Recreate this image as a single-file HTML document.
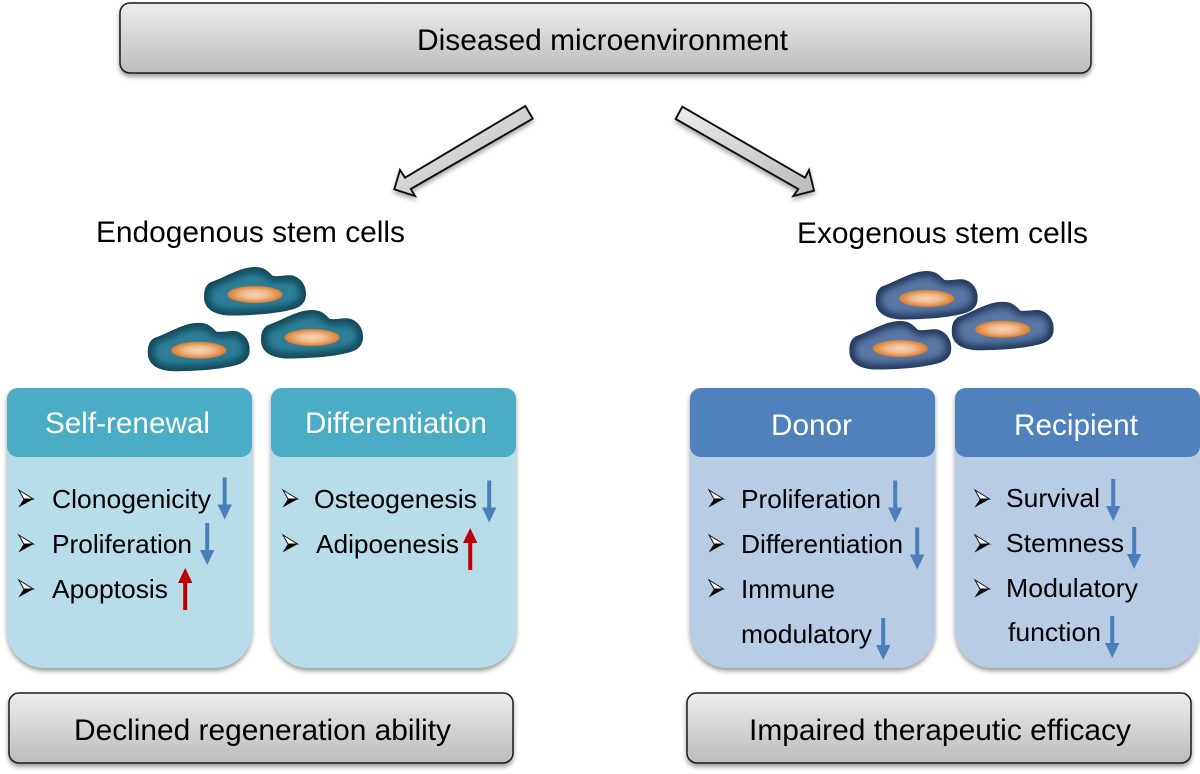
<!DOCTYPE html>
<html><head><meta charset="utf-8"><style>
html,body{margin:0;padding:0;background:#fff}
svg{display:block}
text{font-family:"Liberation Sans",sans-serif;fill:#000}
.t{font-size:30px}
.l{font-size:26px}
.h{font-size:30px;fill:#fff}
</style></head><body>
<svg width="1200" height="774" viewBox="0 0 1200 774" xmlns="http://www.w3.org/2000/svg">
<defs>
<linearGradient id="g" x1="0" y1="0" x2="0" y2="1"><stop offset="0" stop-color="#ededed"/><stop offset="1" stop-color="#bcbcbc"/></linearGradient>
<linearGradient id="ga" x1="0" y1="0" x2="1" y2="1"><stop offset="0" stop-color="#ececec"/><stop offset="1" stop-color="#bababa"/></linearGradient>
<radialGradient id="n"><stop offset="0" stop-color="#f9d6b6"/><stop offset=".5" stop-color="#eeba8e"/><stop offset=".85" stop-color="#e28f48"/><stop offset="1" stop-color="#dc7d2c"/></radialGradient>
<filter id="s" x="-5%" y="-10%" width="110%" height="130%"><feDropShadow dx="0" dy="3" stdDeviation="2.500" flood-color="#000" flood-opacity=".4"/></filter>
<filter id="sa" x="-15%" y="-15%" width="130%" height="140%"><feDropShadow dx="0" dy="3" stdDeviation="2.500" flood-color="#000" flood-opacity=".35"/></filter>
<filter id="bl" filterUnits="userSpaceOnUse" x="-30" y="-30" width="170" height="110"><feGaussianBlur stdDeviation="4"/></filter>
<path id="c" d="M6 15.500 C22 10 36 0 51 0 C62 0 65 6 69 9 C76 10 84 7 90 9 C98 12 102 19 102 27 C102 37 95 41 86 43 C72 46.500 50 48.500 26 48.500 C12 48 0 43 0 30 C0 24 1 19 6 15.500 Z"/>
<clipPath id="cp"><use href="#c"/></clipPath>
<g id="tc"><g clip-path="url(#cp)"><use href="#c" fill="#2e7e97"/><use href="#c" fill="none" stroke="#0f3f4f" stroke-width="10" filter="url(#bl)"/></g><ellipse cx="51" cy="27.500" rx="27.500" ry="8.500" fill="url(#n)"/></g>
<g id="uc"><g clip-path="url(#cp)"><use href="#c" fill="#5a78a6"/><use href="#c" fill="none" stroke="#1f3054" stroke-width="10" filter="url(#bl)"/></g><ellipse cx="51" cy="27.500" rx="27.500" ry="8.500" fill="url(#n)"/></g>
<g id="d"><rect x="-1.800" y="0" width="4" height="28" fill="#4b7fbc"/><polygon points="-7,27 7.400,27 .2,42" fill="#4b7fbc"/></g>
<g id="r"><rect x="-1.800" y="14" width="4" height="28" fill="#c00000"/><polygon points="-7,15 7.400,15 .2,0" fill="#c00000"/></g>
<g id="bu"><polygon points="0.500,0 15,9 5.500,9" fill="#fff" stroke="#111" stroke-width="1"/><polygon points="0,17.500 15.200,9 5.500,9" fill="#000"/></g>
</defs>

<rect x="120" y="3" width="971" height="70" rx="10" fill="url(#g)" stroke="#1c1c1c" stroke-width="1.500" filter="url(#s)"/>
<text class="t" x="417" y="50" textLength="371" lengthAdjust="spacingAndGlyphs">Diseased microenvironment</text>

<polygon points="525.300,106 532.700,118.700 410.700,189 415,196 394.300,189.300 400,170 405,177.700" fill="url(#ga)" stroke="#111" stroke-width="1.900" filter="url(#sa)"/>
<polygon points="682.300,106.700 675.700,119 798.300,189 793.300,196 814,190.700 809,170 805,177.700" fill="url(#ga)" stroke="#111" stroke-width="1.900" filter="url(#sa)"/>

<text class="t" x="96" y="242" textLength="309" lengthAdjust="spacingAndGlyphs">Endogenous stem cells</text>
<text class="t" x="797" y="243" textLength="291" lengthAdjust="spacingAndGlyphs">Exogenous stem cells</text>

<use href="#tc" x="204" y="267"/><use href="#tc" x="147.700" y="322.700"/><use href="#tc" x="261" y="310"/>
<use href="#uc" x="875.700" y="271"/><use href="#uc" x="849.300" y="321"/><use href="#uc" x="951.700" y="301.700"/>

<!-- panels -->
<g filter="url(#s)">
<path d="M17 388H242a10 10 0 0 1 10 10V630a38 38 0 0 1-38 38H45a38 38 0 0 1-38-38V398a10 10 0 0 1 10-10Z" fill="#b6dde8"/>
<path d="M281 388H506a10 10 0 0 1 10 10V630a38 38 0 0 1-38 38H309a38 38 0 0 1-38-38V398a10 10 0 0 1 10-10Z" fill="#b6dde8"/>
<path d="M700 388H925a10 10 0 0 1 10 10V630a38 38 0 0 1-38 38H728a38 38 0 0 1-38-38V398a10 10 0 0 1 10-10Z" fill="#b8cce4"/>
<path d="M965 388H1190a10 10 0 0 1 10 10V630a38 38 0 0 1-38 38H993a38 38 0 0 1-38-38V398a10 10 0 0 1 10-10Z" fill="#b8cce4"/>
</g>
<rect x="7" y="388" width="245" height="69" rx="11" fill="#4bacc6"/>
<rect x="271" y="388" width="245" height="69" rx="11" fill="#4bacc6"/>
<rect x="690" y="388" width="245" height="69" rx="11" fill="#4f81bd"/>
<rect x="955" y="388" width="245" height="69" rx="11" fill="#4f81bd"/>
<text class="h" x="45" y="433" textLength="165" lengthAdjust="spacingAndGlyphs">Self-renewal</text>
<text class="h" x="305" y="433" textLength="182" lengthAdjust="spacingAndGlyphs">Differentiation</text>
<text class="h" x="771" y="435" textLength="81" lengthAdjust="spacingAndGlyphs">Donor</text>
<text class="h" x="1014" y="435" textLength="124" lengthAdjust="spacingAndGlyphs">Recipient</text>

<!-- Self-renewal -->
<use href="#bu" x="18.300" y="490"/><text class="l" x="52" y="508" textLength="159" lengthAdjust="spacingAndGlyphs">Clonogenicity</text>
<use href="#bu" x="18.300" y="535"/><text class="l" x="52" y="553" textLength="140" lengthAdjust="spacingAndGlyphs">Proliferation</text>
<use href="#bu" x="18.300" y="580"/><text class="l" x="52" y="598" textLength="116" lengthAdjust="spacingAndGlyphs">Apoptosis</text>
<use href="#d" x="224.500" y="477.500"/><use href="#d" x="207" y="523"/><use href="#r" x="185" y="568"/>

<!-- Differentiation -->
<use href="#bu" x="282.500" y="490"/><text class="l" x="314" y="508" textLength="163" lengthAdjust="spacingAndGlyphs">Osteogenesis</text>
<use href="#bu" x="282.500" y="535"/><text class="l" x="316" y="553" textLength="143" lengthAdjust="spacingAndGlyphs">Adipoenesis</text>
<use href="#d" x="489" y="480.500"/><use href="#r" x="470" y="528"/>

<!-- Donor -->
<use href="#bu" x="708.500" y="490"/><text class="l" x="741" y="508" textLength="140" lengthAdjust="spacingAndGlyphs">Proliferation</text>
<use href="#bu" x="708.500" y="535"/><text class="l" x="741" y="553" textLength="162" lengthAdjust="spacingAndGlyphs">Differentiation</text>
<use href="#bu" x="708.500" y="580"/><text class="l" x="741" y="598" textLength="94" lengthAdjust="spacingAndGlyphs">Immune</text>
<text class="l" x="741" y="643" textLength="131" lengthAdjust="spacingAndGlyphs">modulatory</text>
<use href="#d" x="895" y="480.500"/><use href="#d" x="917" y="527.500"/><use href="#d" x="883" y="618"/>

<!-- Recipient -->
<use href="#bu" x="974.500" y="490"/><text class="l" x="1006" y="507" textLength="94" lengthAdjust="spacingAndGlyphs">Survival</text>
<use href="#bu" x="974.500" y="535"/><text class="l" x="1006" y="552" textLength="118" lengthAdjust="spacingAndGlyphs">Stemness</text>
<use href="#bu" x="974.500" y="580"/><text class="l" x="1006" y="597" textLength="132" lengthAdjust="spacingAndGlyphs">Modulatory</text>
<text class="l" x="1008" y="641" textLength="93" lengthAdjust="spacingAndGlyphs">function</text>
<use href="#d" x="1113" y="479"/><use href="#d" x="1134" y="527"/><use href="#d" x="1112" y="616"/>

<rect x="9" y="693" width="504" height="70" rx="10" fill="url(#g)" stroke="#1c1c1c" stroke-width="1.500" filter="url(#s)"/>
<rect x="687" y="693" width="504" height="70" rx="10" fill="url(#g)" stroke="#1c1c1c" stroke-width="1.500" filter="url(#s)"/>
<text class="t" x="74" y="740" textLength="377" lengthAdjust="spacingAndGlyphs">Declined regeneration ability</text>
<text class="t" x="749" y="740" textLength="382" lengthAdjust="spacingAndGlyphs">Impaired therapeutic efficacy</text>
</svg>
</body></html>
